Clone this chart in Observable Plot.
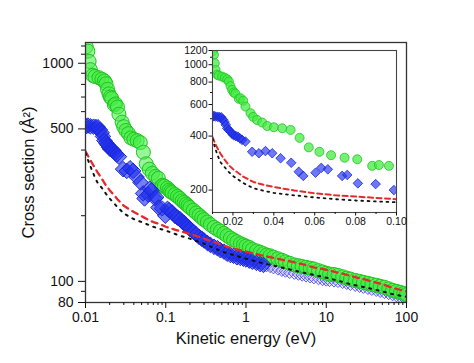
<!DOCTYPE html>
<html><head><meta charset="utf-8">
<script src="https://cdn.jsdelivr.net/npm/d3@7"></script>
<script src="https://cdn.jsdelivr.net/npm/@observablehq/plot@0.6"></script>
<style>
body{margin:0;background:#fff;}
#wrap{position:relative;width:474px;height:363px;}
</style>
</head><body><div id="wrap"></div>
<script>
// ---- data (energy in eV, cross section in Å²) ----
const greenE = [0.0102,0.0107,0.0111,0.0115,0.0123,0.0131,0.0147,0.016,0.0172,0.018,0.0188,0.0196,0.0204,0.0212,0.0229,0.0237,0.025,0.0261,0.0286,0.0299,0.0318,0.0343,0.0368,0.040,0.0441,0.0482,0.0526,0.0571,0.0623,0.068,0.0746,0.0808,0.0881,0.0914,0.0963,
  0.105,0.11,0.115,0.12,0.13,0.14,0.15,0.16,0.17,0.18,0.19,0.2,0.22,0.24,0.26,0.28,0.3,0.33,0.36,0.4,0.44,0.48,0.53,0.58,0.64,0.7,0.77,0.85,0.93,1.0,1.1,1.2,1.35,1.5,1.65,1.8,2.0,2.2,2.5,2.8,3.1,3.5,4.0,4.5,5.0,5.6,6.3,7.0,8.0,9.0,10,11,12.5,14,16,18,20,23,26,29,33,37,42,47,53,60,67,75,84,92,100];
const greenS = [1190,1136,1020,935,880,870,858,845,830,806,760,724,700,690,645,651,630,584,537,512,492,476,455,448,442,433,391,346,327,313,303,297,273,276,273,
  268,262,258,255,250,245,240,234,230,226,222,218,212,206,201,196,192,187,182,177,173,170,166,162,158,155,152,149,147,145,143,140,138,136,134,132,131,129,127,125,123,121,119,118,117,116,115,114,112,110.5,109,108,107.5,106.5,105,103.5,102.5,101,100,99,98,97,96,95,94,92.5,91,90,89,88,87];

const blueE = [0.0102,0.0107,0.0115,0.0126,0.0135,0.0143,0.0151,0.0159,0.0165,0.0172,0.018,0.0188,0.0196,0.0204,0.0214,0.0224,0.0235,0.0245,0.0261,0.0294,0.0327,0.0359,0.0392,0.0433,0.0485,0.0522,0.0544,0.0604,0.0632,0.0664,0.0734,0.0759,0.0811,0.0898,0.0987,
  0.105,0.11,0.12,0.13,0.14,0.15,0.16,0.17,0.18,0.19,0.2,0.22,0.24,0.26,0.28,0.3,0.33,0.36,0.4,0.44,0.48,0.53,0.58,0.64,0.7,0.77,0.85,0.93,1.0,1.1,1.2,1.35,1.5,1.65,1.8,2.0,2.2,2.5,2.8,3.1,3.5,4.0,4.5,5.0,5.6,6.3,7.0,8.0,9.0,10,11,12.5,14,16,18,20,23,26,29,33,37,42,47,53,60,67,75,84,92,100];
const blueS = [515,518,514,512,510,509,495,480,462,442,432,423,412,404,400,397,388,381,373,327,321,330,321,301,284,253,240,250,266,261,240,243,218,216,200,
  215,212,207,200,196,193,188,185,181,178,174,169,164,160,157,154,150,147,144,142,139,137,134,132,131,129,128,127,126,124.5,123,121.5,120,119,118,117,115.5,114,112.5,111.5,110,109,108,107,106,105,104,103,102,101.5,101,100.5,100,99,98,97,96,95,94,93,92,91,90,89,88,87,86,85,84.5,84];

const lineE  = [0.01,0.011,0.012,0.013,0.014,0.016,0.018,0.02,0.025,0.03,0.035,0.04,0.05,0.06,0.07,0.08,0.09,0.1,0.15,0.2,0.3,0.5,0.7,1,1.5,2,3,5,7,10,15,20,30,50,70,100];
const redS   = [395,370,350,333,318,295,275,262,238,222,214,208,199,192,187,184,181,178,170,165,157,147,141,137,132,129,125,120,116,113,109,106,102,97,93,90];
const blackS = [388,352,324,302,285,268,252,240,219,205,198,193,187,182,178,175,173,171,162,157,149,137,132,127,122,119,115,110,107,104,100,97,94,90,87,85];

const xMajor = [0.01,0.1,1,10,100];
const xMajorLabels = ["0.01","0.1","1","10","100"];
const yMajor = [80,100,500,1000];
const yMajorLabels = ["80","100","500","1000"];
const yMinor = [90,200,300,400,600,700,800,900,1100,1200];
const insetXTicks = [0.02,0.04,0.06,0.08,0.10];
const insetXLabels = ["0.02","0.04","0.06","0.08","0.10"];
const insetXMinor = [0.01,0.03,0.05,0.07,0.09];
const insetYTicks = [200,400,600,800,1000,1200];
const insetYLabels = ["200","400","600","800","1000","1200"];
const insetYMinor = [300,500,700,900,1100];

const xMinor = [];
for (const d of [0.01,0.1,1,10]) for (let k=2;k<=9;k++) xMinor.push(+(d*k).toPrecision(3));

const green = greenE.map((E,i)=>({E, S: greenS[i]}));
const blue = blueE.map((E,i)=>({E, S: blueS[i]}));
const lines = lineE.map((E,i)=>({E, R: redS[i], B: blackS[i]}));
const blueFilled = blue.filter(d => d.E < 1.7);
const blueOpen = blue.filter(d => d.E >= 1.7);

const font = "'Liberation Sans', Arial, Helvetica, sans-serif";
const GREEN_FILL = "#46ec46", GREEN_STROKE = "#1fc41f";
const BLUE_FILL = "#2030ee", BLUE_STROKE = "#1a28d8";
const RED = "#e42a2a";

const main = Plot.plot({
  width: 474, height: 363,
  marginLeft: 85, marginRight: 68, marginTop: 42, marginBottom: 61,
  x: {type: "log", domain: [0.01, 100]},
  y: {type: "log", domain: [80, 1245]},
  style: {fontFamily: font, fontSize: "14px", color: "#111", background: "white", overflow: "visible"},
  marks: [
    Plot.dot(blueOpen, {x: "E", y: "S", r: 5.6, symbol: "diamond2", fill: "#8a8aff", fillOpacity: 0.18, stroke: "#4b4bf2", strokeWidth: 0.9, clip: true}),
    Plot.dot(green, {x: "E", y: "S", r: 7, symbol: "circle", fill: GREEN_FILL, fillOpacity: 0.55, stroke: GREEN_STROKE, strokeWidth: 1, clip: true}),
    Plot.dot(blueFilled, {x: "E", y: "S", r: 7, symbol: "diamond2", fill: BLUE_FILL, fillOpacity: 0.62, stroke: BLUE_STROKE, strokeWidth: 1, clip: true}),
    Plot.line(lines, {x: "E", y: "R", stroke: RED, strokeWidth: 2.3, strokeDasharray: "6,5", clip: true}),
    Plot.line(lines, {x: "E", y: "B", stroke: "#111", strokeWidth: 2, strokeDasharray: "2,5.5", clip: true}),
    Plot.frame({stroke: "#333", strokeWidth: 1.3}),
    Plot.axisX({ticks: xMinor, tickSize: 3, tickFormat: () => "", label: null}),
    Plot.axisX({ticks: xMajor, tickSize: 6, tickPadding: 4, tickFormat: d => xMajorLabels[xMajor.indexOf(d)], label: null, fontSize: 14}),
    Plot.axisY({ticks: yMinor, tickSize: 4, tickFormat: () => "", label: null}),
    Plot.axisY({ticks: yMajor, tickSize: 7, tickPadding: 5, tickFormat: d => yMajorLabels[yMajor.indexOf(d)], label: null, fontSize: 14}),
    Plot.text(["Kinetic energy (eV)"], {text: d => d, frameAnchor: "bottom", dy: 41, fontSize: 16.5, fill: "#111", textAnchor: "middle"}),
    Plot.text(["Cross section (Å²)"], {text: d => d, frameAnchor: "left", dx: -57, rotate: -90, fontSize: 16.5, fill: "#111", textAnchor: "middle", lineAnchor: "middle"})
  ]
});
document.getElementById("wrap").appendChild(main);

const inGreen = green.filter(d => d.E <= 0.1);
const inBlue = blue.filter(d => d.E <= 0.1);
const inLines = lines.filter(d => d.E <= 0.1);

const inset = Plot.plot({
  width: 233, height: 190,
  marginLeft: 35, marginRight: 14, marginTop: 8, marginBottom: 20,
  x: {domain: [0.01, 0.1]},
  y: {type: "log", domain: [150, 1200]},
  style: {fontFamily: font, fontSize: "10.5px", color: "#111", background: "transparent", overflow: "visible"},
  marks: [
    Plot.frame({fill: "white"}),
    Plot.dot(inGreen, {x: "E", y: "S", r: 4.5, symbol: "circle", fill: GREEN_FILL, fillOpacity: 0.75, stroke: GREEN_STROKE, strokeWidth: 0.8, clip: true}),
    Plot.dot(inBlue, {x: "E", y: "S", r: 4.3, symbol: "diamond2", fill: BLUE_FILL, fillOpacity: 0.65, stroke: BLUE_STROKE, strokeWidth: 0.8, clip: true}),
    Plot.line(inLines, {x: "E", y: "R", stroke: RED, strokeWidth: 2, strokeDasharray: "5,3.5", clip: true}),
    Plot.line(inLines, {x: "E", y: "B", stroke: "#111", strokeWidth: 1.8, strokeDasharray: "1.8,4.5", clip: true}),
    Plot.frame({stroke: "#444", strokeWidth: 1.1}),
    Plot.axisX({ticks: insetXMinor, tickSize: 2, tickFormat: () => "", label: null}),
    Plot.axisX({ticks: insetXTicks, tickSize: 3.5, tickPadding: 2, tickFormat: d => insetXLabels[insetXTicks.indexOf(d)], label: null}),
    Plot.axisY({ticks: insetYMinor, tickSize: 2, tickFormat: () => "", label: null}),
    Plot.axisY({ticks: insetYTicks, tickSize: 3.5, tickPadding: 1.5, tickFormat: d => insetYLabels[insetYTicks.indexOf(d)], label: null})
  ]
});
inset.style.position = "absolute";
inset.style.left = "177px";
inset.style.top = "42px";
document.getElementById("wrap").appendChild(inset);
</script></body></html>
